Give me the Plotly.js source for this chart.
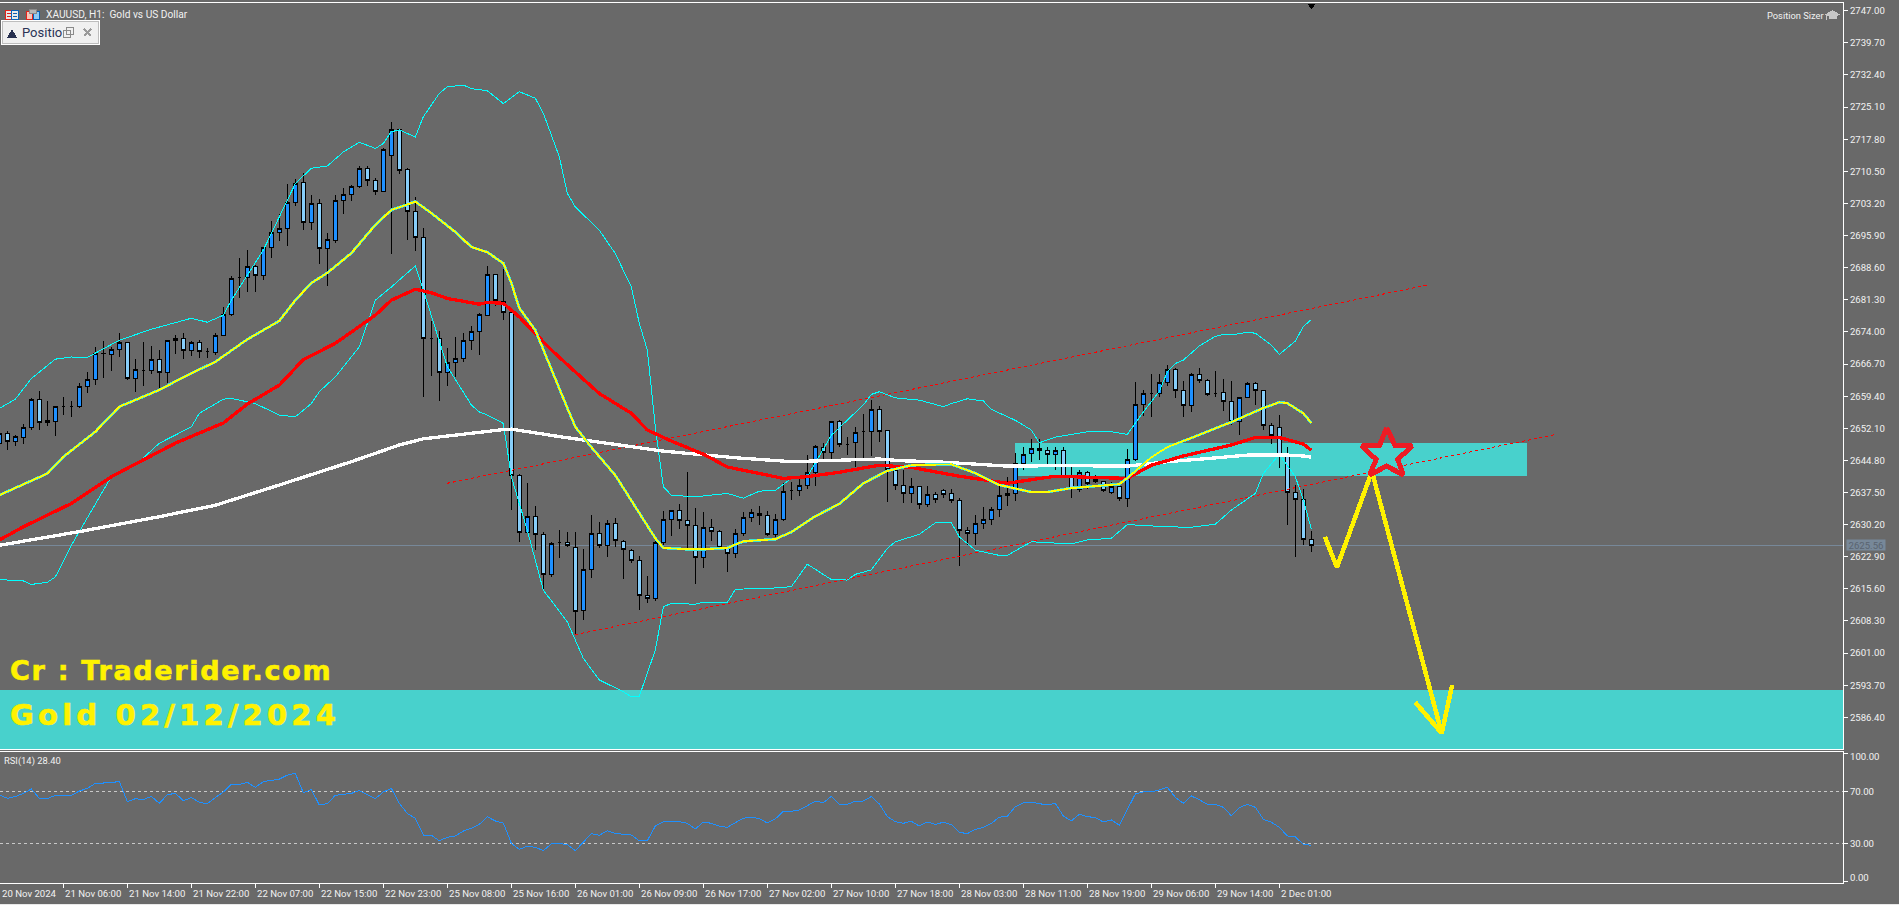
<!DOCTYPE html>
<html>
<head>
<meta charset="utf-8">
<title>XAUUSD H1</title>
<script src="https://cdn.plot.ly/plotly-3.0.1.min.js"></script>
<style>html,body{margin:0;padding:0;background:#696969;overflow:hidden}#c{width:1899px;height:905px}
#c svg .cartesianlayer path{shape-rendering:crispEdges}
#c svg .shapelayer path{shape-rendering:crispEdges}</style>
</head>
<body>
<div id="c"></div>
<script>
// ---- candles: bar numbers -1 .. 163, one row below per ten bars
const barFirst = -1, barLast = 163;
const opens = [
2648.7,2650.9,2649.1,2650.0,2652.2,2658.7,2653.9,2653.6,2657.0,2657.0,
2657.0,2661.6,2663.2,2669.0,2668.9,2670.0,2671.6,2663.4,2665.3,2665.3,
2667.7,2664.7,2672.1,2672.5,2669.8,2671.6,2669.5,2669.3,2673.2,2677.9,
2686.3,2686.3,2688.8,2686.8,2693.2,2696.6,2697.5,2703.4,2708.0,2698.9,
2703.2,2693.0,2694.7,2703.9,2705.2,2707.0,2711.1,2708.4,2705.9,2714.2,
2720.0,2710.9,2701.4,2695.5,2672.5,2672.5,2664.7,2667.1,2668.0,2672.1,
2674.0,2677.8,2687.1,2680.9,2678.3,2641.4,2628.3,2632.1,2628.0,2618.8,
2626.1,2626.2,2625.0,2610.7,2620.0,2628.2,2625.4,2630.5,2626.4,2624.3,
2622.1,2614.0,2613.3,2626.2,2631.4,2633.4,2631.2,2630.0,2622.7,2629.6,
2628.6,2625.0,2623.6,2628.2,2631.8,2632.7,2632.2,2628.0,2631.3,2637.9,
2637.9,2639.1,2642.1,2647.7,2646.6,2653.7,2648.5,2648.9,2651.3,2651.4,
2656.4,2651.6,2642.6,2639.1,2637.2,2638.9,2634.8,2637.1,2638.0,2637.3,
2635.7,2628.9,2628.1,2630.5,2631.4,2633.7,2636.8,2637.2,2644.2,2646.3,
2647.5,2647.1,2646.1,2647.1,2641.4,2638.1,2642.1,2640.5,2639.9,2637.4,
2638.9,2636.2,2644.9,2657.5,2659.9,2659.9,2662.5,2665.5,2660.7,2657.3,
2664.3,2662.9,2659.9,2660.2,2658.2,2653.7,2659.1,2662.3,2660.7,2652.7,
2652.3,2646.0,2637.4,2635.9,2626.8];
const highs = [
2651.1,2651.5,2650.6,2653.1,2658.9,2660.6,2658.3,2657.2,2659.1,2658.3,
2662.3,2664.9,2670.6,2671.9,2670.6,2673.7,2671.7,2667.8,2671.7,2670.8,
2669.9,2672.2,2673.3,2673.7,2671.9,2672.2,2670.3,2673.7,2679.7,2686.7,
2690.7,2692.6,2689.2,2693.3,2699.2,2700.7,2707.6,2708.7,2710.2,2705.1,
2704.3,2696.4,2705.2,2706.6,2707.4,2711.7,2711.7,2708.9,2715.7,2721.7,
2720.2,2711.2,2704.6,2697.5,2676.5,2674.2,2670.4,2672.9,2673.8,2675.3,
2678.2,2688.9,2687.2,2688.2,2678.6,2641.8,2639.6,2634.4,2628.6,2626.2,
2628.9,2628.6,2628.6,2624.6,2632.4,2630.8,2631.2,2631.6,2626.7,2624.6,
2623.0,2618.5,2626.7,2633.2,2633.5,2634.9,2642.1,2633.9,2633.0,2631.4,
2628.9,2625.1,2629.1,2633.0,2633.7,2634.4,2633.2,2632.7,2639.6,2639.9,
2640.7,2646.0,2648.3,2648.7,2653.8,2654.0,2650.0,2652.3,2655.3,2658.5,
2657.1,2651.7,2642.7,2642.6,2640.9,2639.0,2638.9,2637.7,2638.2,2638.4,
2636.3,2629.7,2632.4,2634.1,2634.2,2638.9,2641.1,2646.4,2647.9,2649.6,
2649.6,2647.9,2647.9,2647.9,2643.2,2642.6,2642.4,2641.4,2640.2,2639.9,
2639.9,2647.3,2662.7,2660.8,2664.4,2664.4,2666.4,2665.7,2662.8,2664.6,
2665.9,2663.4,2665.1,2663.4,2662.8,2659.3,2662.5,2662.5,2660.9,2653.2,
2655.1,2647.9,2639.2,2638.3,2628.7];
const lows = [
2647.5,2647.2,2648.1,2648.5,2651.7,2651.7,2652.6,2650.3,2655.1,2654.7,
2656.6,2660.2,2661.9,2663.5,2665.2,2668.4,2663.1,2660.3,2661.6,2664.4,
2661.2,2662.3,2669.0,2667.8,2668.5,2668.1,2668.1,2668.7,2673.1,2677.5,
2681.6,2683.1,2683.1,2685.9,2690.7,2694.7,2693.6,2702.7,2697.1,2697.1,
2689.4,2684.5,2694.2,2700.9,2703.8,2706.7,2707.1,2705.1,2705.8,2691.7,
2709.9,2694.9,2692.4,2659.2,2663.9,2658.3,2661.7,2663.8,2667.2,2669.9,
2668.7,2677.7,2679.9,2676.7,2633.5,2626.2,2628.2,2624.4,2615.5,2618.3,
2622.6,2625.2,2605.2,2608.5,2618.0,2624.9,2622.9,2625.2,2617.9,2621.4,
2610.8,2612.4,2612.9,2625.5,2627.6,2629.2,2624.2,2616.7,2620.3,2626.4,
2625.0,2619.5,2622.6,2627.6,2630.8,2630.1,2627.6,2627.4,2631.1,2635.8,
2636.7,2638.3,2638.9,2645.2,2645.2,2647.9,2646.0,2643.3,2644.9,2645.8,
2648.9,2635.4,2638.0,2635.2,2635.2,2633.8,2634.2,2635.0,2636.3,2635.2,
2620.8,2625.5,2625.5,2629.3,2630.1,2632.0,2634.4,2635.6,2642.7,2644.5,
2644.9,2643.9,2642.6,2641.2,2636.3,2637.6,2638.4,2639.6,2637.6,2637.1,
2635.6,2634.1,2644.7,2654.9,2654.7,2659.2,2661.8,2658.9,2654.7,2655.8,
2662.4,2659.4,2659.2,2656.0,2652.8,2650.5,2659.0,2657.4,2651.7,2648.5,
2643.1,2630.1,2622.9,2625.6,2624.0];
const closes = [
2650.9,2649.1,2650.3,2652.3,2658.7,2653.4,2653.4,2657.0,2657.0,2657.0,
2661.6,2663.2,2669.0,2669.1,2670.0,2671.6,2663.4,2665.5,2665.3,2667.7,
2664.7,2672.0,2672.5,2669.8,2671.6,2669.6,2669.5,2673.2,2677.9,2686.2,
2686.3,2688.8,2686.8,2693.2,2696.5,2697.5,2703.4,2707.8,2698.9,2703.2,
2693.0,2695.0,2703.9,2705.2,2707.1,2711.1,2708.4,2705.9,2715.5,2719.9,
2710.7,2701.4,2695.5,2672.5,2672.5,2664.7,2667.1,2668.0,2672.1,2674.0,
2678.0,2687.1,2681.1,2678.3,2641.4,2628.3,2632.1,2627.9,2618.8,2625.9,
2626.1,2625.4,2610.5,2620.0,2628.2,2625.4,2630.5,2626.6,2624.6,2622.1,
2614.0,2613.3,2626.2,2631.4,2633.4,2631.2,2630.0,2622.7,2629.6,2628.7,
2625.0,2623.6,2628.2,2631.8,2633.0,2632.3,2628.0,2631.3,2637.7,2637.9,
2639.1,2642.1,2647.9,2646.6,2653.7,2648.3,2648.5,2651.1,2651.3,2656.4,
2651.4,2642.7,2639.1,2637.2,2638.9,2634.8,2637.1,2635.8,2637.1,2635.6,
2628.9,2628.1,2630.5,2631.4,2633.7,2636.8,2637.3,2644.1,2646.2,2647.5,
2647.0,2646.1,2647.1,2641.2,2638.3,2642.1,2639.6,2639.9,2637.9,2638.9,
2636.2,2645.0,2657.5,2660.0,2659.9,2662.5,2665.5,2660.7,2657.3,2664.3,
2663.0,2659.8,2659.9,2658.2,2653.7,2659.1,2662.3,2660.7,2652.7,2650.5,
2646.0,2637.4,2635.9,2626.8,2625.56];

// ---- moving averages and Bollinger bands, read at the bars where they bend
const maFastBars = [-1,5,7,11,14,19,22,26,30,34,36,38,40,43,46,48,51,53,56,58,60,62,63,64,66,67,70,71,73,76,78,81,82,85,87,90,92,96,98,101,104,107,110,113,118,121,124,128,130,133,139,140,143,145,148,153,157,159,160,162,163];
const maFast = [2636.9,2641.8,2645.6,2651.3,2657.0,2660.8,2663.7,2667.2,2672.3,2676.5,2681.2,2685.1,2687.4,2691.9,2698.3,2701.7,2703.6,2701.0,2696.7,2693.3,2692.1,2689.6,2685.1,2679.4,2674.4,2669.9,2656.7,2652.4,2647.8,2641.4,2635.8,2627.1,2624.9,2624.6,2624.6,2624.9,2626.4,2626.9,2628.5,2632.1,2634.9,2639.6,2642.4,2643.7,2643.9,2641.9,2639.2,2637.6,2637.6,2638.5,2639.4,2640.8,2645.5,2647.8,2649.9,2653.5,2656.7,2658.0,2657.8,2655.5,2653.3];
const maMidBars = [-1,2,8,13,21,27,30,34,37,41,46,48,51,53,55,59,60,62,64,68,71,74,78,80,83,87,90,93,97,100,104,109,113,119,125,131,140,143,147,153,156,159,162,163];
const maMid = [2626.7,2629.7,2635.0,2641.1,2648.7,2653.3,2657.6,2661.9,2667.7,2671.4,2677.8,2681.2,2683.7,2682.9,2681.6,2680.3,2680.7,2680.5,2677.4,2669.9,2664.9,2660.0,2655.5,2651.7,2649.2,2646.2,2643.3,2642.2,2640.7,2641.1,2642.1,2643.7,2643.2,2641.2,2639.6,2641.2,2640.7,2643.7,2645.8,2648.3,2650.0,2650.0,2648.5,2647.1];
const maSlowBars = [-1,9,19,26,34,43,49,52,62,63,69,78,82,91,98,107,109,112,116,125,132,140,145,150,155,160,162,163];
const maSlow = [2625.5,2628.6,2632.0,2634.6,2639.2,2644.5,2648.3,2649.7,2651.8,2651.9,2650.2,2648.0,2646.9,2645.4,2644.5,2645.0,2645.1,2644.7,2644.5,2643.5,2643.6,2643.5,2644.5,2645.2,2646.0,2646.0,2645.8,2645.5];
const bbUpperBars = [-1,1,3,6,8,10,14,18,21,23,25,27,28,32,36,38,40,42,44,46,47,48,49,51,52,54,55,57,58,60,62,64,66,67,69,70,71,74,76,78,79,80,81,82,83,86,90,92,94,96,98,100,103,107,108,109,111,114,117,118,120,122,123,126,128,129,131,135,138,140,142,144,145,146,147,149,151,152,153,155,156,158,159,161,162,163];
const bbUpper = [2656.6,2658.7,2663.4,2667.8,2668.3,2668.2,2672.1,2674.6,2676.1,2677.1,2676.2,2677.8,2681.2,2692.6,2707.7,2711.2,2711.7,2714.9,2717.1,2715.7,2716.8,2719.5,2719.9,2718.3,2722.9,2728.2,2729.7,2730.1,2729.3,2728.8,2725.9,2728.6,2727.1,2723.7,2713.8,2705.5,2702.4,2697.1,2691.8,2684.2,2675.9,2669.9,2652.4,2638.8,2636.9,2636.5,2637.3,2636.2,2637.8,2638.0,2640.7,2641.1,2650.5,2657.4,2659.8,2660.4,2659.0,2658.5,2657.0,2657.7,2658.8,2658.3,2656.4,2653.9,2651.7,2648.8,2650.1,2651.3,2651.3,2650.7,2655.8,2660.5,2664.9,2666.8,2667.6,2670.8,2673.0,2673.4,2673.3,2673.9,2673.7,2671.0,2668.9,2671.9,2675.2,2676.8];
const bbLowerBars = [-1,2,3,5,6,8,13,16,19,23,24,27,28,31,34,36,38,39,41,44,46,48,51,52,55,58,59,60,62,63,65,67,70,72,74,77,78,79,81,82,83,86,87,90,91,96,98,100,103,105,106,108,110,111,114,116,118,119,121,124,125,128,133,135,138,140,145,148,151,153,156,157,159,161,162,163];
const bbLower = [2617.7,2617.4,2616.6,2617.1,2618.3,2625.5,2641.1,2643.7,2648.7,2652.4,2655.5,2658.7,2658.9,2657.7,2655.1,2654.7,2657.7,2660.4,2663.8,2670.6,2681.2,2684.2,2689.0,2683.5,2666.1,2657.4,2655.8,2655.1,2653.2,2641.1,2628.9,2615.3,2608.1,2599.8,2594.9,2592.2,2591.1,2591.2,2601.7,2611.5,2612.3,2612.1,2612.6,2612.5,2615.5,2615.8,2616.1,2621.2,2617.7,2617.6,2618.9,2619.9,2624.8,2626.3,2628.0,2630.6,2630.6,2627.4,2624.4,2623.2,2623.2,2626.3,2625.8,2626.7,2627.1,2630.2,2629.7,2629.6,2630.3,2633.5,2637.3,2641.8,2646.2,2641.1,2635.8,2629.2];

// ---- RSI(14): one value per bar, bars -1 .. 163
const rsiValues = [
67.4,64.9,66.2,68.7,72.1,64.9,64.6,67.2,67.2,67.2,
70.5,72.6,76.5,76.7,77.0,78.0,62.3,64.6,63.8,66.4,
61.0,67.7,68.7,63.1,65.4,61.8,60.7,65.4,69.8,75.7,
75.7,77.3,73.4,77.8,78.8,79.8,82.9,84.2,69.3,71.6,
59.7,60.7,67.2,68.2,68.7,70.8,67.4,64.6,69.8,72.6,
61.0,53.2,49.4,36.4,36.2,32.0,34.6,35.7,39.5,41.6,
44.7,50.6,47.3,45.7,30.0,25.3,27.7,26.9,24.3,29.5,
30.0,28.9,24.3,31.3,37.5,36.2,39.8,37.7,37.2,36.4,
32.0,32.0,43.4,46.5,47.1,46.8,45.5,41.1,46.5,45.5,
43.2,42.4,46.0,49.4,50.2,49.1,45.8,48.9,54.8,54.8,
55.8,59.2,62.6,61.5,66.4,60.2,60.2,62.6,62.8,66.2,
60.5,50.7,46.8,45.5,47.1,43.4,46.5,44.7,46.3,44.5,
38.5,37.5,40.8,42.4,45.5,50.2,50.9,58.4,61.3,61.8,
61.0,59.7,61.0,51.2,47.3,52.5,50.7,49.9,46.5,48.1,
44.0,56.6,68.2,69.8,70.0,71.3,73.4,65.7,61.0,66.7,
63.8,60.2,60.2,57.9,51.4,57.6,60.2,57.9,48.6,46.3,
42.4,35.7,34.9,29.2,28.4];
const rsiLevels = [70, 30];

// ---- axes
const priceTicks = [2586.4,2593.7,2601.0,2608.3,2615.6,2622.9,2630.2,2637.5,2644.8,2652.1,2659.4,2666.7,2674.0,2681.3,2688.6,2695.9,2703.2,2710.5,2717.8,2725.1,2732.4,2739.7,2747.0];
const timeTickBars = [-1,7,15,23,31,39,47,55,63,71,79,87,95,103,111,119,127,135,143,151,159];
const timeTickLabels = ["20 Nov 2024","21 Nov 06:00","21 Nov 14:00","21 Nov 22:00","22 Nov 07:00","22 Nov 15:00","22 Nov 23:00","25 Nov 08:00","25 Nov 16:00","26 Nov 01:00","26 Nov 09:00","26 Nov 17:00","27 Nov 02:00","27 Nov 10:00","27 Nov 18:00","28 Nov 03:00","28 Nov 11:00","28 Nov 19:00","29 Nov 06:00","29 Nov 14:00","2 Dec 01:00"];
const lastPrice = 2625.56;

// ---- hand-drawn analysis objects, in bar / price units
const zoneMidBars = [126, 190], zoneMidPrices = [2641.25, 2648.75];
const zoneLowPrices = [2579.2, 2592.6];
const channelUpBars = [55, 177.7], channelUpPrices = [2639.6, 2684.7];
const channelLowBars = [71, 193.6], channelLowPrices = [2605.2, 2650.7];
const arrowBars = [164.7,166.2,170.5,null,170.7,179.3,null,176.0,179.3,180.6];
const arrowPrices = [2627.4,2620.5,2641.9,null,2641.4,2582.8,null,2589.8,2582.8,2593.7];
const starBars = [172.4,173.5,175.6,173.8,174.5,172.4,170.3,171.1,169.3,171.5,172.4];
const starPrices = [2652.2,2648.1,2648.1,2645.0,2641.5,2643.5,2641.5,2645.0,2648.1,2648.1,2652.2];

const W = 1899, H = 905, L = 0, R = 1843, T = 3, B = 883;
const px = x => (x - L) / (R - L), py = y => (B - y) / (B - T);
const bars = closes.map((_, k) => barFirst + k);
const xRange = [-0.916, 229.459];
const small = 'Roboto,"Liberation Sans",Arial,sans-serif';
const lab = '#F2F2F2';

const line = (x, y, color, width, extra) => Object.assign({type:'scatter', mode:'lines', x, y, hoverinfo:'skip',
  line:Object.assign({color, width, shape:'linear'}, extra||{})}, {xaxis:'x', yaxis:'y'});

const traces = [
  {type:'candlestick', x:bars, open:opens, high:highs, low:lows, close:closes, xaxis:'x', yaxis:'y', whiskerwidth:0, hoverinfo:'skip',
   increasing:{line:{color:'#000000',width:1}, fillcolor:'#1E90FF'},
   decreasing:{line:{color:'#000000',width:1}, fillcolor:'#87CEFA'}},
  line(channelUpBars, channelUpPrices, '#FF0000', 1, {dash:'3px,3px'}),
  line(channelLowBars, channelLowPrices, '#FF0000', 1, {dash:'3px,3px'}),
  line(bbUpperBars, bbUpper, '#00FFFF', 1),
  line(bbLowerBars, bbLower, '#00FFFF', 1),
  line(maSlowBars, maSlow, '#FFFFFF', 3.3),
  line(maMidBars, maMid, '#FF0000', 3.3),
  line(maFastBars, maFast, '#40E0D0', 2.8),
  line(maFastBars, maFast, '#FFFF00', 1.7),
  line(arrowBars, arrowPrices, '#FFF200', 4.5),
  line(starBars, starPrices, '#ED1C24', 5, {}),
  {type:'scatter', mode:'lines', x:bars, y:rsiValues, xaxis:'x2', yaxis:'y2', hoverinfo:'skip', line:{color:'#1E90FF', width:1}}
];

const pxLine = (x0,y0,x1,y1,color,width) => ({type:'line', xref:'paper', yref:'paper', x0:px(x0), x1:px(x1), y0:py(y0), y1:py(y1), line:{color, width:width||1}, layer:'above'});
const pxRect = (x0,y0,x1,y1,fill,stroke) => ({type:'rect', xref:'paper', yref:'paper', x0:px(x0), x1:px(x1), y0:py(y0), y1:py(y1), fillcolor:fill, line:{color:stroke||fill, width:stroke?1:0}, layer:'above'});

const shapes = [
  {type:'rect', xref:'x', yref:'y', x0:zoneMidBars[0], x1:zoneMidBars[1], y0:zoneMidPrices[0], y1:zoneMidPrices[1], fillcolor:'#48D1CC', line:{width:0}, layer:'below'},
  {type:'rect', xref:'paper', yref:'y', x0:0, x1:1, y0:zoneLowPrices[0], y1:zoneLowPrices[1], fillcolor:'#48D1CC', line:{width:0}, layer:'below'},
  {type:'line', xref:'paper', yref:'y', x0:0, x1:1, y0:lastPrice, y1:lastPrice, line:{color:'#778899', width:1}, layer:'below'},
  {type:'line', xref:'paper', yref:'y2', x0:0, x1:1, y0:rsiLevels[0], y1:rsiLevels[0], line:{color:'#C8C8C8', width:1, dash:'3px,3px'}, layer:'below'},
  {type:'line', xref:'paper', yref:'y2', x0:0, x1:1, y0:rsiLevels[1], y1:rsiLevels[1], line:{color:'#C8C8C8', width:1, dash:'3px,3px'}, layer:'below'},
  // window chrome at the foot of the frame
  pxLine(0,904.5,W,904.5,'#E8E8E8',1),
  // small toolbar icons in the corner
  pxRect(5,10,11.5,19,'#E8E8E8','#E2231A'), pxRect(11.5,10,18.5,19,'#E8E8E8','#0A5FB4'),
  pxLine(6.5,13,10.5,13,'#E2231A',1), pxLine(6.5,16,10.5,16,'#E2231A',1), pxLine(13,13,17,13,'#0A5FB4',1), pxLine(13,16,17,16,'#0A5FB4',1),
  pxRect(26,11,32,19,'#F6C6B8','#E2231A'), pxRect(33,11,39,19,'#8FCBF5','#0A5FB4'), pxRect(29.5,9,36,13,'#B8B8B8','#8A8A8A'),
  // floating panel
  pxRect(1.5,20,99,44,'#F0F0F0','#FFFFFF'), pxRect(2.5,21,98,43,'#F0F0F0','#BDBDBD'),
  {type:'path', xref:'paper', yref:'paper', layer:'above', fillcolor:'#27304F', line:{width:0},
   path:`M ${px(7)} ${py(37.7)} L ${px(12)} ${py(29)} L ${px(17)} ${py(37.7)} Z`},
  pxRect(63,30,70.5,37,'#F0F0F0','#8A8A8A'), pxRect(66.5,27.5,73,34,'rgba(0,0,0,0)','#8A8A8A'),
  pxLine(84,29,91,36,'#9A9A9A',2), pxLine(91,29,84,36,'#9A9A9A',2),
  // small black marker on the top rule
  {type:'path', xref:'paper', yref:'paper', layer:'above', fillcolor:'#000000', line:{width:0},
   path:`M ${px(1307)} ${py(3.5)} L ${px(1316)} ${py(3.5)} L ${px(1311.5)} ${py(9)} Z`},
  // mortar-board icon
  {type:'path', xref:'paper', yref:'paper', layer:'above', fillcolor:'#C8C8C8', line:{width:0},
   path:`M ${px(1825)} ${py(14.5)} L ${px(1832.5)} ${py(10)} L ${px(1840)} ${py(14.5)} L ${px(1836.5)} ${py(16.5)} L ${px(1836.5)} ${py(19)} L ${px(1829)} ${py(19)} L ${px(1829)} ${py(16.5)} Z`},
  pxRect(1825.5,15,1826.7,20,'#C8C8C8')
];

const ann = (text, x, y, size, color, anchor, extra) => Object.assign({text, xref:'paper', yref:'paper', x:px(x), y:py(y), showarrow:false,
  xanchor:anchor||'left', yanchor:'middle', borderpad:0, font:{family:small, size, color}}, extra||{});

const heavy = size => ({family:'"DejaVu Sans",sans-serif', size, color:'#FFF200', weight:700});
const annotations = [
  ann('XAUUSD, H1:  Gold vs US Dollar', 45, 14.5, 10.2, lab),
  ann('Positio', 21, 32.5, 13, '#2A3355'),
  ann('Position Sizer', 1765.5, 15, 9.3, lab),
  ann('RSI(14) 28.40', 2.5, 760.5, 9.4, lab),
  ann('100.00', 1848.7, 756.5, 9.6, lab),
  ann('0.00', 1848.7, 877.5, 9.6, lab),
  ann('Cr : Traderider.com', 9, 670, 27, '#FFF200', 'left', {font:heavy(27), width:345, height:36, align:'left'}),
  ann('Gold 02/12/2024', 9, 715, 29, '#FFF200', 'left', {font:heavy(29), width:345, height:38, align:'left'}),
  ann(lastPrice.toFixed(2), 1846, 545, 9.6, '#5A6470', 'left', {bgcolor:'#778899', width:38, height:10, align:'center'})
].concat(timeTickBars.map((b, k) => ({text:timeTickLabels[k], xref:'x2', yref:'paper', x:Math.max(b, xRange[0]), xanchor:'left', xshift:0.5,
   y:py(893), yanchor:'middle', showarrow:false, borderpad:0, font:{family:small, size:9.6, color:lab}})));

const frame = {showline:true, linecolor:'#FFFFFF', linewidth:1, showgrid:false, zeroline:false};

const layout = {
  width:W, height:H, paper_bgcolor:'#696969', plot_bgcolor:'#696969', showlegend:false, hovermode:false,
  margin:{l:L, r:W-R, t:T, b:H-B, pad:0}, boxgap:0.4, boxmode:'overlay', dragmode:false,
  xaxis:Object.assign({}, frame, {mirror:true, type:'linear', range:xRange, domain:[0,1], anchor:'y', rangeslider:{visible:false}, showticklabels:false, ticks:''}),
  yaxis:Object.assign({}, frame, {type:'linear', range:[2579.2,2748.75], domain:[py(749),1], anchor:'x', side:'right',
    tickmode:'array', tickvals:priceTicks, ticktext:priceTicks.map(v=>v.toFixed(2)), ticks:'outside', ticklen:4, tickcolor:'#FFFFFF', tickwidth:1,
    tickfont:{family:small, size:9.6, color:lab}, ticklabelstandoff:0}),
  xaxis2:Object.assign({}, frame, {mirror:true, type:'linear', range:xRange, domain:[0,1], anchor:'y2', showticklabels:false,
    tickmode:'array', tickvals:timeTickBars, ticks:'outside', ticklen:4, tickcolor:'#FFFFFF', tickwidth:1}),
  yaxis2:Object.assign({}, frame, {type:'linear', range:[-0.8,100.8], domain:[0,py(752)], anchor:'x2', side:'right',
    tickmode:'array', tickvals:[100,70,30,0], ticktext:['','70.00','30.00',''], ticks:'outside', ticklen:4, tickcolor:'#FFFFFF', tickwidth:1,
    tickfont:{family:small, size:9.6, color:lab}, ticklabelstandoff:0}),
  shapes, annotations
};

Plotly.newPlot('c', traces, layout, {staticPlot:true, displayModeBar:false, responsive:false}).then(() => {
  // The reference's heading face is much wider than any installed bold, so the two headings are tracked out.
  document.querySelectorAll('#c .annotation-text').forEach(t => {
    const s = t.textContent;
    if (s.startsWith('Gold ')) { t.style.letterSpacing = '4.2px'; t.style.stroke = '#FFF200'; t.style.strokeWidth = '0.6px'; }
    if (s.startsWith('Cr :'))  { t.style.letterSpacing = '1.7px'; t.style.stroke = '#FFF200'; t.style.strokeWidth = '0.6px'; }
  });
});
</script>
</body>
</html>
